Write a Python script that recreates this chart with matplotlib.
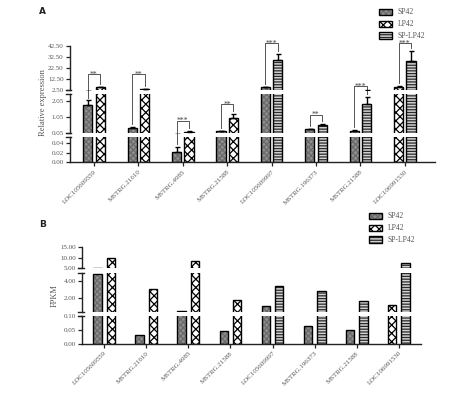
import numpy as np
import matplotlib
matplotlib.use("Agg")
import matplotlib.pyplot as plt
from matplotlib.patches import Patch
from matplotlib.legend_handler import HandlerBase
from matplotlib.patches import Rectangle
from matplotlib.transforms import blended_transform_factory

plt.rcParams['font.family'] = ['Liberation Serif', 'DejaVu Serif']
plt.rcParams['hatch.linewidth'] = 0.9

# ---- data ----
genes = ['LOC105609559', 'MSTRG.21610', 'MSTRG.4985', 'MSTRG.21588',
         'LOC105609997', 'MSTRG.196373', 'MSTRG.21588', 'LOC106991530']
left_group = ['SP42', 'SP42', 'SP42', 'SP42', 'SP42', 'SP42', 'SP42', 'LP42']
right_group = ['LP42', 'LP42', 'LP42', 'LP42', 'SP-LP42', 'SP-LP42', 'SP-LP42', 'SP-LP42']

# panel A: relative expression (qPCR)
a_left = [1.80, 0.40, 0.021, 0.19, 5.5, 0.32, 0.21, 5.8]
a_left_err = [0.30, 0.03, 0.010, 0.02, 0.4, 0.03, 0.02, 0.4]
a_right = [5.2, 3.7, 0.15, 0.99, 29.4, 0.57, 1.88, 28.5]
a_right_err = [0.5, 0.4, 0.03, 0.28, 6.0, 0.05, 0.45, 9.5]
a_sig = ['**', '**', '***', '**', '***', '**', '***', '***']

# panel B: FPKM (RNA-seq)
b_left = [4.79, 0.033, 0.5, 0.047, 1.02, 0.065, 0.049, 1.21]
b_right = [9.75, 3.02, 8.3, 1.8, 3.38, 2.82, 1.65, 7.3]

groups = ['SP42', 'LP42', 'SP-LP42']

# ---- styling: fill, hatch, hatch colour ----
styles = {
    'SP42': ('#8f8f8f', 'xxxxxx', '#6a6a6a'),
    'LP42': ('white', 'xxxx', 'black'),
    'SP-LP42': ('#d2d2d2', '------', '#2a2a2a'),
}
TXT = '#555555'
LINE = '#222222'

W, H = 474, 398
fig = plt.figure(figsize=(W / 100, H / 100), dpi=100)


def px_rect(left, right, top, bottom):
    return [left / W, 1 - bottom / H, (right - left) / W, (bottom - top) / H]


def hatched_bars(ax, xpos, vals, width, names):
    # first pass: fill + hatch (hatch takes the edge colour), second pass: black outline
    fills = ax.bar(xpos, vals, width, linewidth=0, zorder=2)
    for b, g in zip(fills, names):
        fc, hatch, hc = styles[g]
        b.set_facecolor(fc)
        b.set_hatch(hatch)
        b.set_edgecolor(hc)
    ax.bar(xpos, vals, width, fill=False, edgecolor='black', linewidth=1.0, zorder=2.5)


def draw_panel(segments, lr, xlim, off, width, lvals, rvals, lerr=None, rerr=None):
    x = np.arange(len(genes))
    axes = []
    for i, (tb, ylim, ticks) in enumerate(segments):
        ax = fig.add_axes(px_rect(lr[0], lr[1], tb[0], tb[1]))
        hatched_bars(ax, x - off, lvals, width, left_group)
        hatched_bars(ax, x + off, rvals, width, right_group)
        if lerr is not None:
            for xp, v, e in [(x - off, lvals, lerr), (x + off, rvals, rerr)]:
                ax.errorbar(xp, v, yerr=[np.zeros(len(x)), e], fmt='none',
                            ecolor='black', elinewidth=1.0, capsize=1.8,
                            capthick=1.0, zorder=3)
        ax.set_xlim(*xlim)
        ax.set_ylim(*ylim)
        ax.set_yticks(ticks)
        ax.set_yticklabels(['%.2f' % t for t in ticks])
        ax.tick_params(axis='y', length=3, width=0.9, pad=1.5, labelsize=5,
                       labelcolor=TXT, color=LINE)
        for s in ['top', 'right']:
            ax.spines[s].set_visible(False)
        ax.spines['left'].set_color(LINE)
        ax.spines['left'].set_linewidth(1.0)
        ax.patch.set_alpha(0)
        if i == 0:
            ax.spines['bottom'].set_color(LINE)
            ax.spines['bottom'].set_linewidth(1.0)
            ax.set_xticks(x)
            ax.set_xticklabels(genes, rotation=45, ha='right', rotation_mode='anchor')
            ax.tick_params(axis='x', length=3, width=0.9, pad=2, labelsize=5,
                           labelcolor=TXT, color=LINE)
        else:
            ax.spines['bottom'].set_visible(False)
            ax.set_xticks([])
        # axis break marks
        marks = []
        if i > 0:
            marks.append(0)
        if i < len(segments) - 1:
            marks.append(1)
        for m in marks:
            ax.plot([-0.012, 0.004], [m, m], transform=ax.transAxes, color=LINE,
                    lw=1.0, clip_on=False)
        axes.append(ax)
    return axes


# ---- panel A ----
seg_a = [
    ((137.0, 162.3), (0, 0.0527), [0, 0.02, 0.04]),
    ((94.1, 133.3), (0.05, 2.5), [0.05, 1.05, 2.05]),
    ((45.7, 90.3), (2.5, 42.5), [2.5, 12.5, 22.5, 32.5, 42.5]),
]
axes_a = draw_panel(seg_a, (70, 435), (-0.54, 7.68), 0.14, 0.21,
                    a_left, a_right, a_left_err, a_right_err)

# significance brackets (pixel rows from the top of the figure)
sig_rows = [74, 74, 120.7, 104.3, 43.3, 114.7, 86, 43.3]


def top_px(axes, v):
    for ax in axes:
        lo, hi = ax.get_ylim()
        if v <= hi or ax is axes[-1]:
            disp = ax.transData.transform((0, v))
            return H - fig.transFigure.inverted().transform(disp)[1] * H
    return 0


fig.canvas.draw()
trans = blended_transform_factory(axes_a[0].transData, fig.transFigure)
for i in range(len(genes)):
    yb = sig_rows[i]
    yl = top_px(axes_a, a_left[i] + a_left_err[i]) - 3
    yr = top_px(axes_a, a_right[i] + a_right_err[i]) - 3
    xs = [i - 0.14, i - 0.14, i + 0.14, i + 0.14]
    ys = [1 - yl / H, 1 - yb / H, 1 - yb / H, 1 - yr / H]
    axes_a[-1].plot(xs, ys, transform=trans, color='#555555', lw=0.7, clip_on=False)
    axes_a[-1].text(i, 1 - (yb + 2.5) / H, a_sig[i], transform=trans, ha='center',
                    va='baseline', fontsize=5.5, color='#444444')

fig.text(42.7 / W, 1 - 103 / H, 'Relative expression', rotation=90, ha='center',
         va='center', fontsize=6, color=TXT)
fig.text(42.7 / W, 1 - 11.7 / H, 'A', ha='center', va='center', fontsize=6.5,
         fontweight='bold', family='DejaVu Sans', color='#222222')

# ---- panel B ----
seg_b = [
    ((315.5, 343.7), (0, 0.103), [0, 0.05, 0.10]),
    ((272.5, 311.6), (0.4, 5.0), [2, 4]),
    ((247.3, 267.7), (5, 15), [5, 10, 15]),
]
axes_b = draw_panel(seg_b, (82.3, 420.7), (-0.52, 7.52), 0.16, 0.2, b_left, b_right)

fig.text(55 / W, 1 - 296 / H, 'FPKM', rotation=90, ha='center', va='center',
         fontsize=6, color=TXT)
fig.text(42.7 / W, 1 - 224.7 / H, 'B', ha='center', va='center', fontsize=6.5,
         fontweight='bold', family='DejaVu Sans', color='#222222')


# ---- legends ----
class HatchHandler(HandlerBase):
    def create_artists(self, legend, orig, xd, yd, w, h, fontsize, trans):
        fc, hatch, hc = styles[orig.get_label()]
        r1 = Rectangle((-xd, -yd), w, h, facecolor=fc, hatch=hatch, edgecolor=hc,
                       linewidth=0, transform=trans)
        r2 = Rectangle((-xd, -yd), w, h, fill=False, edgecolor='black',
                       linewidth=1.0, transform=trans)
        return [r1, r2]


handles = [Patch(label=g) for g in groups]
for x0, y0 in [(379, 8.5), (369, 212.5)]:
    leg = fig.legend(handles=handles, loc='upper left', bbox_to_anchor=(x0 / W, 1 - y0 / H),
                     frameon=False, fontsize=5.5, handlelength=1.7, handleheight=0.9,
                     labelspacing=0.5, borderaxespad=0, borderpad=0, handletextpad=0.7,
                     handler_map={Patch: HatchHandler()})
    for t in leg.get_texts():
        t.set_color(TXT)

fig.savefig('out.png', dpi=100)
